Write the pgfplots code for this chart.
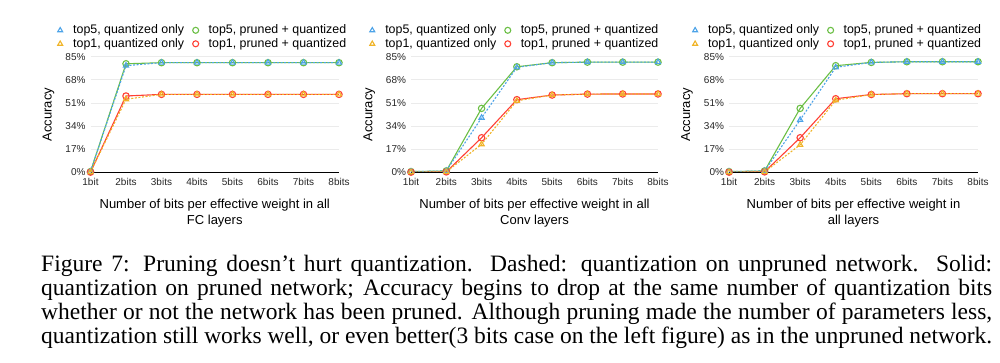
\documentclass[border=0pt]{standalone}
\usepackage{fontspec}
\setmainfont{Liberation Sans}
\newfontfamily\capfont{Liberation Serif}
\usepackage{pgfplots}
\pgfplotsset{compat=1.18}
\definecolor{cblue}{RGB}{77,163,232}
\definecolor{corange}{RGB}{240,180,40}
\definecolor{cgreen}{RGB}{107,191,69}
\definecolor{cred}{RGB}{255,64,53}
\newcommand{\lf}{\fontsize{12.4}{14}\selectfont}
\pgfplotsset{
  panel/.style={
    scale only axis, height=115.6pt,
    xmin=1, xmax=8, ymin=0, ymax=85,
    axis line style={draw=none},
    major tick length=0pt,
    ymajorgrids, grid style={black!8, line width=0.7pt},
    xtick={1,...,8},
    xticklabels={1bit,2bits,3bits,4bits,5bits,6bits,7bits,8bits},
    ytick={0,17,34,51,68,85},
    yticklabels={0\%,17\%,34\%,51\%,68\%,85\%},
    tick label style={font=\fontsize{10}{12}\selectfont, text=black!85},
    xticklabel style={yshift=-2.5pt},
    yticklabel style={xshift=-1.5pt},
    ylabel={Accuracy},
    ylabel style={at={(axis description cs:-0.169,0.5)}, anchor=center, font=\fontsize{13}{15}\selectfont},
    xlabel style={at={(axis description cs:0.5,-0.352)}, anchor=center, align=center, font=\fontsize{13}{16}\selectfont},
    clip=false,
    legend columns=2,
    legend cell align=left,
    legend image code/.code={\path[draw=none,fill=none] (0pt,-3pt) rectangle (18pt,3pt); \draw[#1] plot coordinates {(6.5pt,0pt)};},
    legend style={draw=none, fill=none, inner sep=2pt,
      nodes={text height=9pt, text depth=2.5pt, inner sep=1.5pt}, row sep=-1pt,
      /tikz/every even column/.append style={column sep=3.5pt}},
  },
  qb/.style={cblue, line width=1.1pt, dash pattern=on 2pt off 1.6pt, mark=triangle, mark size=3pt, mark options={solid, fill=white, line width=1.1pt}},
  qo/.style={corange, line width=1.1pt, dash pattern=on 2pt off 1.6pt, mark=triangle, mark size=3pt, mark options={solid, fill=white, line width=1.1pt}},
  pg/.style={cgreen, line width=1.1pt, mark=o, mark size=3.2pt, mark options={fill=white, line width=1.1pt}},
  pr/.style={cred, line width=1.1pt, mark=o, mark size=3.2pt, mark options={fill=white, line width=1.1pt}},
}
\newcommand{\legimages}{%
  \addlegendimage{cblue, mark=triangle, mark size=2.8pt, line width=1.1pt}
  \addlegendimage{cgreen, mark=o, mark size=3pt, line width=1.1pt}
  \addlegendimage{corange, mark=triangle, mark size=2.8pt, line width=1.1pt}
  \addlegendimage{cred, mark=o, mark size=3pt, line width=1.1pt}
  \legend{{\lf top5, quantized only},{\lf top5, pruned + quantized},{\lf top1, quantized only},{\lf top1, pruned + quantized}}%
}
\begin{document}
\begin{tikzpicture}
\useasboundingbox (0pt,0pt) rectangle (1000pt,363pt);
% ---------- Panel 1: FC layers
\begin{axis}[panel, width=248.5pt, at={(90.5pt,190.7pt)}, anchor=south west,
  xlabel={Number of bits per effective weight in all\\FC layers},
  legend style={at={(axis description cs:-0.157,1.17)}, anchor=west}]
\legimages
\addplot[pg, forget plot] coordinates {(1,0.5)(2,79.8)(3,80.6)(4,80.6)(5,80.6)(6,80.6)(7,80.6)(8,80.6)};
\addplot[pr, forget plot] coordinates {(1,0.1)(2,56.1)(3,57.3)(4,57.3)(5,57.3)(6,57.3)(7,57.3)(8,57.3)};
\addplot[qb, forget plot] coordinates {(1,0.5)(2,78.4)(3,80.6)(4,80.6)(5,80.6)(6,80.6)(7,80.6)(8,80.6)};
\addplot[qo, forget plot] coordinates {(1,0.1)(2,53.7)(3,57.3)(4,57.3)(5,57.3)(6,57.3)(7,57.3)(8,57.3)};
\draw[black, line width=0.8pt] (axis cs:1,0) -- (axis cs:8,0);
\end{axis}
% ---------- Panel 2: Conv layers
\begin{axis}[panel, width=247pt, at={(411pt,190.7pt)}, anchor=south west,
  xlabel={Number of bits per effective weight in all\\Conv layers},
  legend style={at={(axis description cs:-0.192,1.17)}, anchor=west}]
\legimages
\addplot[pg, forget plot] coordinates {(1,0.5)(2,1.0)(3,47.0)(4,77.6)(5,80.6)(6,81.0)(7,81.0)(8,81.0)};
\addplot[pr, forget plot] coordinates {(1,0.1)(2,0.3)(3,25.4)(4,53.4)(5,56.8)(6,57.5)(7,57.6)(8,57.6)};
\addplot[qb, forget plot] coordinates {(1,0.5)(2,1.0)(3,40.1)(4,77.2)(5,80.6)(6,81.0)(7,81.0)(8,81.0)};
\addplot[qo, forget plot] coordinates {(1,0.1)(2,0.3)(3,20.6)(4,52.6)(5,56.8)(6,57.5)(7,57.6)(8,57.6)};
\draw[black, line width=0.8pt] (axis cs:1,0) -- (axis cs:8,0);
\end{axis}
% ---------- Panel 3: all layers
\begin{axis}[panel, width=249pt, at={(729pt,190.7pt)}, anchor=south west,
  xlabel={Number of bits per effective weight in\\all layers},
  legend style={at={(axis description cs:-0.171,1.17)}, anchor=west}]
\legimages
\addplot[pg, forget plot] coordinates {(1,0.5)(2,1.0)(3,47.0)(4,78.4)(5,80.8)(6,81.3)(7,81.3)(8,81.3)};
\addplot[pr, forget plot] coordinates {(1,0.1)(2,0.3)(3,25.4)(4,54.1)(5,57.2)(6,57.8)(7,57.8)(8,57.8)};
\addplot[qb, forget plot] coordinates {(1,0.5)(2,1.0)(3,38.5)(4,77.2)(5,80.8)(6,81.3)(7,81.3)(8,81.3)};
\addplot[qo, forget plot] coordinates {(1,0.1)(2,0.3)(3,20.2)(4,53.0)(5,57.2)(6,57.8)(7,57.8)(8,57.8)};
\draw[black, line width=0.8pt] (axis cs:1,0) -- (axis cs:8,0);
\end{axis}
% ---------- Caption
\begin{scope}[every node/.style={anchor=base west, inner sep=0pt, font=\capfont\fontsize{23.5}{23.6}\selectfont}]
\node at (41pt,91.5pt) {\makebox[951pt][s]{Figure 7: Pruning doesn’t hurt quantization.\ \ Dashed: quantization on unpruned network.\ \ Solid:}};
\node at (41pt,67.5pt) {\makebox[951pt][s]{quantization on pruned network; Accuracy begins to drop at the same number of quantization bits}};
\node at (41pt,43.5pt) {\makebox[951pt][s]{whether or not the network has been pruned. Although pruning made the number of parameters less,}};
\node at (41pt,19.5pt) {\makebox[951pt][s]{quantization still works well, or even better(3 bits case on the left figure) as in the unpruned network.}};
\end{scope}
\end{tikzpicture}
\end{document}
